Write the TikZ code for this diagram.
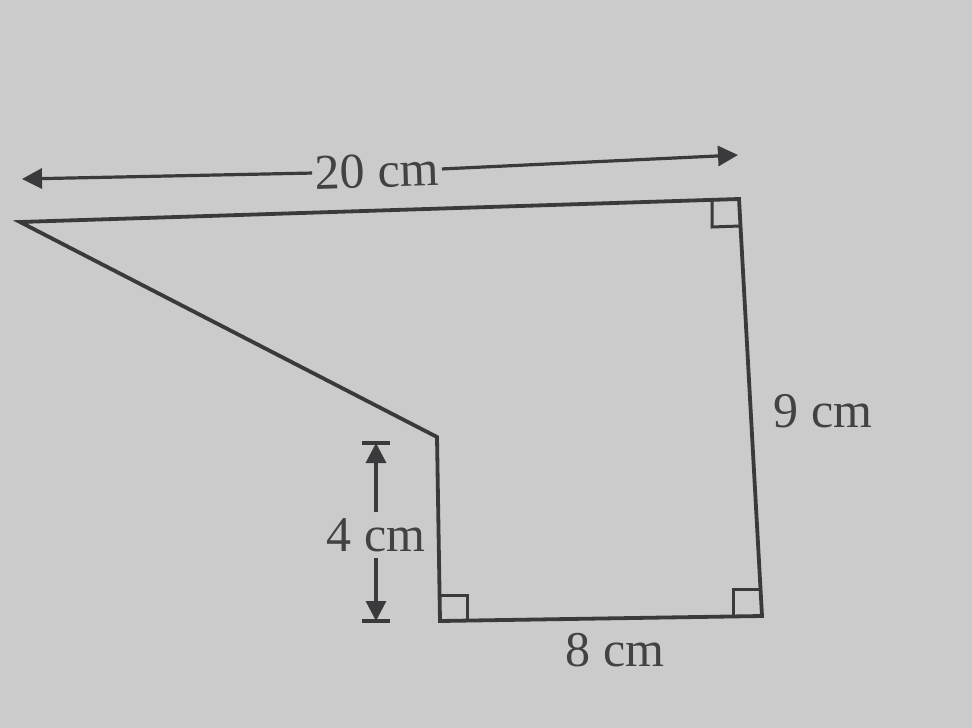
\documentclass[tikz,border=0pt]{standalone}
\usepackage{fontspec}
\setmainfont{Liberation Serif}
\usetikzlibrary{arrows.meta}
\definecolor{paper}{RGB}{203,203,203}
\definecolor{ink}{RGB}{58,58,60}
\definecolor{txt}{RGB}{66,66,66}
\begin{document}
\begin{tikzpicture}[x=1pt,y=-1pt,
  edge/.style={draw=ink,line width=3.8pt,line join=miter},
  sq/.style={draw=ink,line width=3pt},
  lbl/.style={text=txt,font=\fontsize{50}{54}\selectfont,inner sep=3pt},
  dim/.style={draw=ink,line width=3.2pt},
  tipend/.style={-{Triangle[length=20pt,width=20pt]}}]
\fill[paper] (0,0) rectangle (972,728);
\useasboundingbox (0,0) rectangle (972,728);
% outline vertices
\coordinate (A) at (20,222);
\coordinate (B) at (739,199);
\coordinate (C) at (762,616);
\coordinate (D) at (440,621);
\coordinate (E) at (437,437);
\draw[edge] (A) -- (B) -- (C) -- (D) -- (E) -- cycle;
% right-angle marks
\draw[sq] (712,200) -- (712,227) -- (740,226);
\draw[sq] (760,589) -- (733,589) -- (733,617);
\draw[sq] (440,595) -- (467,595) -- (467,620);
% 20 cm
\node[lbl,rotate=1.8] (L20) at (377,171) {20 cm};
\coordinate (T1) at (22,179);
\coordinate (T2) at (738,155);
\draw[dim,tipend] (L20.west) -- (T1);
\draw[dim,tipend] (L20.east) -- (T2);
% 9 cm, 8 cm
\node[lbl] (L9) at (823,411) {9 cm};
\node[lbl] (L8) at (615,650) {8 cm};
% 4 cm
\node[lbl,inner sep=6pt] (L4) at (376,535) {4 cm};
\coordinate (F1) at (376,443);
\coordinate (F2) at (376,621);
\draw[dim] ([xshift=-14pt]F1) -- ([xshift=14pt]F1);
\draw[dim] ([xshift=-14pt]F2) -- ([xshift=14pt]F2);
\draw[dim,tipend] (L4.north) -- (F1);
\draw[dim,tipend] (L4.south) -- (F2);
\end{tikzpicture}
\end{document}
